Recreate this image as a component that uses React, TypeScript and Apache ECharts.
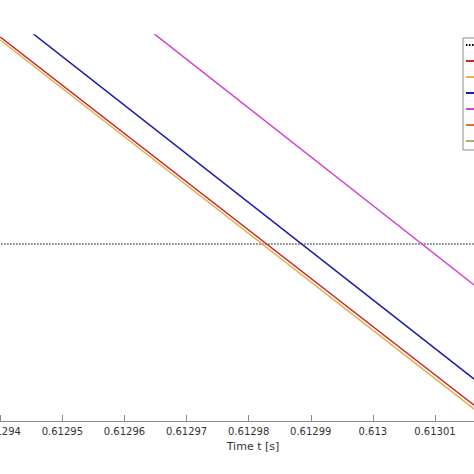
import React, { useEffect, useRef } from "react";
import * as echarts from "echarts";

// Time axis ticks (s)
const xMin = 0.61293;
const xMax = 0.6130314;
const xInterval = 0.00001;

const yMin = -1.77;
const yMax = 2.09;

const seriesNames = [
  "Threshold",
  "Reference",
  "Method 1",
  "Method 2",
  "Method 3",
  "Method 4",
  "Method 5",
];
const seriesColors = [
  "#000000",
  "#c3262b",
  "#e8b04c",
  "#1c1ca8",
  "#d23fd2",
  "#e0702e",
  "#a7b06a",
];

// [time, value] pairs
const thresholdData = [
  [0.61293, 0],
  [0.61304, 0],
];
const refData = [
  [0.61294, 2.07],
  [0.61302, -1.79],
];
const m1Data = [
  [0.61294, 2.04],
  [0.61302, -1.83],
];
const m2Data = [
  [0.61294, 2.36],
  [0.61302, -1.53],
];
const m3Data = [
  [0.61294, 3.31],
  [0.61302, -0.59],
];
const m4Data = [
  [0.61294, 5.99],
  [0.61303, 1.63],
];
const m5Data = [
  [0.61294, 6.14],
  [0.61303, 1.79],
];

const allData = [thresholdData, refData, m1Data, m2Data, m3Data, m4Data, m5Data];

const OFF = 80;
const W = 680;
const H = 474;

export default function App() {
  const ref = useRef<HTMLDivElement>(null);
  useEffect(() => {
    if (!ref.current) return;
    const chart = echarts.init(ref.current, undefined, { renderer: "svg" });
    chart.setOption({
      animation: false,
      backgroundColor: "#ffffff",
      grid: {
        left: OFF - 61.84,
        right: W - (OFF + 567.84),
        top: 35,
        bottom: H - 421,
        containLabel: false,
        outerBoundsMode: "none",
      },
      legend: {
        orient: "vertical",
        left: OFF + 463,
        top: 38,
        itemWidth: 25,
        itemHeight: 10,
        itemGap: 6,
        padding: [2, 6, 4, 2],
        borderColor: "#8c8c8c",
        borderWidth: 1,
        backgroundColor: "#ffffff",
        textStyle: { fontSize: 10, color: "#222", fontFamily: "DejaVu Sans" },
        data: seriesNames,
      },
      xAxis: {
        type: "value",
        min: xMin,
        max: xMax,
        interval: xInterval,
        name: "Time t [s]",
        nameLocation: "middle",
        nameGap: 16,
        nameTextStyle: { fontSize: 11, color: "#333", fontFamily: "DejaVu Sans" },
        axisLine: { onZero: false, lineStyle: { color: "#8a8a8a", width: 1 } },
        axisTick: { inside: true, length: 6, lineStyle: { color: "#8a8a8a" } },
        axisLabel: {
          fontSize: 10,
          color: "#333",
          margin: 5,
          fontFamily: "DejaVu Sans",
          formatter: (v: number) => String(+v.toFixed(5)),
        },
        splitLine: { show: false },
      },
      yAxis: {
        type: "value",
        min: yMin,
        max: yMax,
        show: false,
        splitLine: { show: false },
      },
      series: seriesNames.map((name, i) => ({
        name,
        type: "line",
        data: allData[i],
        symbol: "none",
        showSymbol: false,
        clip: true,
        z: i === 0 ? 1 : 2,
        lineStyle: {
          color: seriesColors[i],
          width: i === 0 ? 1 : 1.5,
          type: i === 0 ? [1.5, 1.5] : "solid",
        },
        itemStyle: { color: seriesColors[i] },
      })),
    });
    return () => chart.dispose();
  }, []);
  return (
    <div
      style={{
        position: "fixed",
        left: 0,
        top: 0,
        width: 474,
        height: 474,
        overflow: "hidden",
        background: "#fff",
      }}
    >
      <div
        ref={ref}
        style={{ position: "absolute", left: -OFF, top: 0, width: W, height: H }}
      />
    </div>
  );
}
